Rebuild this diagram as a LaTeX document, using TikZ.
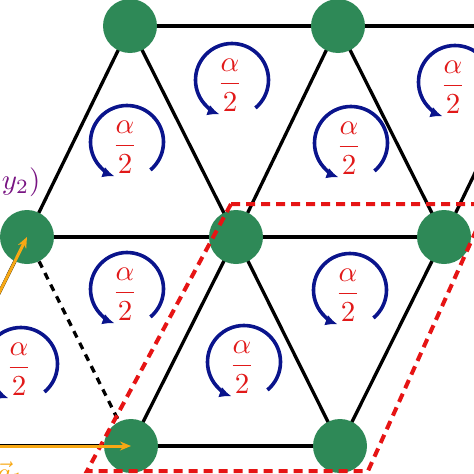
\documentclass[tikz,border=0pt]{standalone}
\usetikzlibrary{arrows.meta,calc}
\definecolor{nodegreen}{RGB}{46,137,87}
\definecolor{arcblue}{RGB}{10,20,140}
\definecolor{fracred}{RGB}{225,25,25}
\definecolor{dashred}{RGB}{230,20,20}
\definecolor{vecorange}{RGB}{247,168,20}
\definecolor{labpurple}{RGB}{120,20,130}
\tikzset{
 site/.style={circle,fill=nodegreen,minimum size=54pt,inner sep=0pt},
 bond/.style={line width=3.3pt,black},
 dbond/.style={line width=3.3pt,black,dash pattern=on 7pt off 6pt},
 cellline/.style={line width=4pt,dashred,dash pattern=on 9pt off 6pt},
 rot/.style={line width=3.6pt,arcblue,-{Latex[length=12pt,width=11pt]}},
 flux/.style={text=fracred,scale=2.9,inner sep=0pt},
 avec/.style={line width=3pt,vecorange,-{Stealth[length=11pt,width=9pt]}},
}
\begin{document}
\begin{tikzpicture}[x=1pt,y=1pt]
\useasboundingbox (0,0) rectangle (474,-474);
\begin{scope}
\clip (0,0) rectangle (474,-474);
% lattice points
\coordinate (T1) at (130,-26);
\coordinate (T2) at (338,-26);
\coordinate (T3) at (546,-26);
\coordinate (Mm) at (-181,-237);
\coordinate (M0) at (27,-237);
\coordinate (M1) at (236,-237);
\coordinate (M2) at (444,-237);
\coordinate (B0) at (-77,-446);
\coordinate (B1) at (131,-446);
\coordinate (B2) at (340,-446);
% bonds
\draw[bond] (T1) -- (T3);
\draw[bond] (Mm) -- (M2);
\draw[bond] (B0) -- (B2);
\draw[bond] (M0) -- (T1) -- (M1) -- (T2) -- (M2) -- (T3);
\draw[bond] (B0) -- (M0);
\draw[bond] (B1) -- (M1) -- (B2) -- (M2);
% sites
\node[site] (nT1) at (T1) {};
\node[site] (nT2) at (T2) {};
\node[site] (nM0) at (M0) {};
\node[site] (nM1) at (M1) {};
\node[site] (nM2) at (M2) {};
\node[site] (nB1) at (B1) {};
\node[site] (nB2) at (B2) {};
% dashed bond
\draw[dbond] (nM0) -- (nB1);
% fluxes
\foreach \n/\cx/\cy in {1/127/142,2/232/80,3/351/143,4/455/82,5/127/289,6/244/362,7/350/290,8/21/364}{
  \draw[rot] ($(\cx,-\cy)+(-50:36.5)$) arc[start angle=-50,end angle=250,radius=36.5];
  \node[flux] (f\n) at (\cx-2,-\cy-5) {$\displaystyle\frac{\alpha}{2}$};
}
% unit cell
\coordinate (R1) at (231,-204);
\coordinate (R2) at (488,-204);
\coordinate (R3) at (368,-471);
\coordinate (R4) at (87,-471);
\draw[cellline] (R1) -- (R2) -- (R3) -- (R4) -- cycle;
% lattice vectors
\draw[avec] (B0) -- (nB1.center);
\draw[avec] (B0) -- (nM0.center);
\node[text=vecorange,scale=2.9,anchor=base west,inner sep=0pt] (alab) at (-4,-482) {$\vec{a}_1$};
\node[text=labpurple,scale=2.9,anchor=base east,inner sep=0pt] (plab) at (41,-189) {$(x_2,y_2)$};
\end{scope}
\end{tikzpicture}
\end{document}
